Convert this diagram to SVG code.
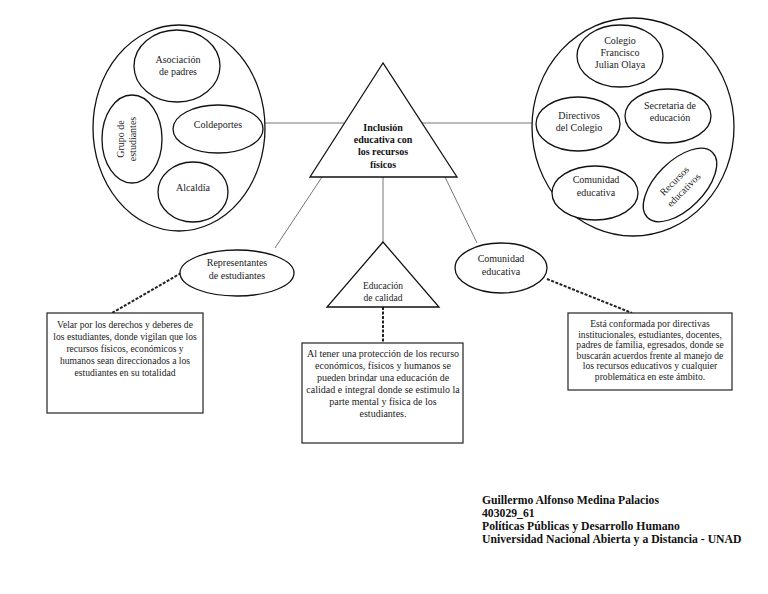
<svg xmlns="http://www.w3.org/2000/svg" width="768" height="594" viewBox="0 0 768 594">
<style>
.sh{fill:#fff;stroke:#111;stroke-width:1.3}
.bx{fill:#fff;stroke:#222;stroke-width:1.2}
.ln{stroke:#777;stroke-width:1;fill:none}
.ds{stroke:#222;stroke-width:2;stroke-dasharray:3,1.5;fill:none}
text{font-family:"Liberation Serif","Times New Roman",serif;fill:#222;text-anchor:middle}
.t10{font-size:10px}
.t9{font-size:9.5px}
.t96{font-size:9.6px}
.t100{font-size:10px}
.b{font-weight:bold;font-size:10px;fill:#111}
.ft{font-weight:bold;font-size:11.7px;text-anchor:start;fill:#111}
</style>
<rect width="768" height="594" fill="#fff"/>
<g id="connectors">
<line class="ln" x1="265" y1="123" x2="344" y2="123"/>
<line class="ln" x1="422" y1="123" x2="532" y2="123"/>
<line class="ln" x1="322" y1="177" x2="275" y2="248"/>
<line class="ln" x1="383" y1="177" x2="383" y2="242"/>
<line class="ln" x1="445" y1="177" x2="477" y2="243"/>
<line class="ds" x1="181" y1="273" x2="112" y2="313"/>
<line class="ds" x1="383" y1="307" x2="383" y2="343"/>
<line class="ds" x1="547" y1="279" x2="632" y2="313"/>
</g>
<g id="left-group">
<ellipse class="sh" cx="179" cy="128" rx="86" ry="103"/>
<g id="asociacion"><ellipse class="sh" cx="177" cy="66" rx="43" ry="36"/>
<text class="t10" x="178" y="63">Asociación</text><text class="t10" x="178" y="75">de padres</text></g>
<g id="grupo"><ellipse class="sh" cx="132" cy="139" rx="30" ry="44"/>
<text class="t10" transform="translate(124,139) rotate(-90)">Grupo de</text>
<text class="t10" transform="translate(136,139) rotate(-90)">estudiantes</text></g>
<g id="coldeportes"><ellipse class="sh" cx="218" cy="129" rx="45" ry="24"/>
<text class="t10" x="218" y="128">Coldeportes</text></g>
<g id="alcaldia"><ellipse class="sh" cx="193" cy="192" rx="35" ry="30"/>
<text class="t10" x="193" y="191">Alcaldía</text></g>
</g>
<g id="right-group">
<ellipse class="sh" cx="633" cy="127" rx="101" ry="109"/>
<g id="colegio"><ellipse class="sh" cx="620" cy="56" rx="43" ry="31"/>
<text class="t10" x="620" y="44">Colegio</text><text class="t10" x="620" y="56">Francisco</text><text class="t10" x="620" y="68">Julian Olaya</text></g>
<g id="directivos"><ellipse class="sh" cx="578" cy="124" rx="42" ry="27"/>
<text class="t10" x="579" y="119">Directivos</text><text class="t10" x="579" y="131">del Colegio</text></g>
<g id="secretaria"><ellipse class="sh" cx="668" cy="116" rx="43" ry="27"/>
<text class="t10" x="670" y="109">Secretaria de</text><text class="t10" x="670" y="121">educación</text></g>
<g id="comunidad-inner"><ellipse class="sh" cx="595" cy="193" rx="43" ry="27"/>
<text class="t10" x="596" y="183">Comunidad</text><text class="t10" x="596" y="196">educativa</text></g>
<g id="recursos" transform="translate(680,185) rotate(-45)"><ellipse class="sh" cx="0" cy="0" rx="46" ry="24"/>
<text class="t10" x="-1" y="-3.5">Recursos</text>
<text class="t10" x="-1" y="9.5">educativos</text></g>
</g>
<g id="inclusion">
<polygon class="sh" points="383,63 310,177 457,177"/>
<text class="b" x="383" y="131">Inclusión</text>
<text class="b" x="383" y="143">educativa con</text>
<text class="b" x="383" y="155">los recursos</text>
<text class="b" x="383" y="168">físicos</text>
</g>
<g id="representantes"><ellipse class="sh" cx="237" cy="273" rx="57" ry="23"/>
<text class="t10" x="237" y="266">Representantes</text><text class="t10" x="237" y="279">de estudiantes</text></g>
<g id="educacion"><polygon class="sh" points="383,242 327,307 439,307"/>
<text class="t9" x="383" y="289">Educación</text><text class="t9" x="383" y="301">de calidad</text></g>
<g id="comunidad"><ellipse class="sh" cx="501" cy="268" rx="46" ry="25"/>
<text class="t10" x="501" y="262">Comunidad</text><text class="t10" x="501" y="275">educativa</text></g>
<g id="box-left"><rect class="bx" x="47" y="313" width="156" height="100"/>
<text class="t96" x="125" y="328">Velar por los derechos y deberes de</text>
<text class="t96" x="125" y="340">los estudiantes, donde vigilan que los</text>
<text class="t96" x="125" y="352">recursos físicos, económicos y</text>
<text class="t96" x="125" y="364">humanos sean direccionados a los</text>
<text class="t96" x="125" y="376">estudiantes en su totalidad</text></g>
<g id="box-center"><rect class="bx" x="302" y="343" width="161" height="100"/>
<text class="t100" x="383" y="357">Al tener una protección de los recurso</text>
<text class="t100" x="383" y="369">económicos, físicos y humanos se</text>
<text class="t100" x="383" y="381">pueden brindar una educación de</text>
<text class="t100" x="383" y="393">calidad e integral donde se estimulo la</text>
<text class="t100" x="383" y="405">parte mental y física de los</text>
<text class="t100" x="383" y="417">estudiantes.</text></g>
<g id="box-right"><rect class="bx" x="568" y="313" width="164" height="77"/>
<text class="t96" x="650" y="327">Está conformada por directivas</text>
<text class="t96" x="650" y="338">institucionales, estudiantes, docentes,</text>
<text class="t96" x="650" y="348">padres de familia, egresados, donde se</text>
<text class="t96" x="650" y="359">buscarán acuerdos frente al manejo de</text>
<text class="t96" x="650" y="369">los recursos educativos y cualquier</text>
<text class="t96" x="650" y="380">problemática en este ámbito.</text></g>
<g id="footer">
<text class="ft" x="482" y="504">Guillermo Alfonso Medina Palacios</text>
<text class="ft" x="482" y="517">403029_61</text>
<text class="ft" x="482" y="530">Políticas Públicas y Desarrollo Humano</text>
<text class="ft" x="482" y="543">Universidad Nacional Abierta y a Distancia - UNAD</text>
</g>
</svg>
